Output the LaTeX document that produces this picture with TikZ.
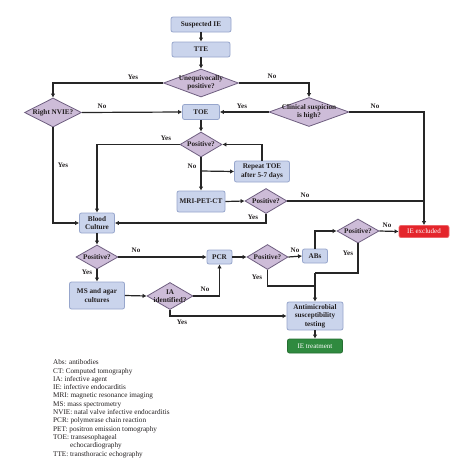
\documentclass[tikz,border=0pt]{standalone}
\usepackage{fontspec}
\setmainfont{Liberation Serif}
\usetikzlibrary{shapes.geometric,arrows.meta,calc}
\definecolor{boxfill}{HTML}{CAD4EC}
\definecolor{boxdraw}{HTML}{97A6CC}
\definecolor{diafill}{HTML}{CDBCD8}
\definecolor{diadraw}{HTML}{6F5F80}
\definecolor{linecol}{HTML}{262626}
\definecolor{txtcol}{HTML}{231F20}
\definecolor{redfill}{HTML}{E4252B}
\definecolor{greenfill}{HTML}{2F8A3F}
\tikzset{
  x=1pt, y=-1pt,
  bx/.style={rectangle, rounded corners=2pt, fill=boxfill, draw=boxdraw, line width=0.8pt,
    inner sep=0pt, align=center, text=txtcol, font=\fontsize{7.2}{8.6}\selectfont\bfseries},
  dia/.style={diamond, fill=diafill, draw=diadraw, line width=0.8pt, inner sep=0pt},
  dtext/.style={align=center, inner sep=0pt, text=txtcol, font=\fontsize{7.2}{7.6}\selectfont\bfseries},
  lab/.style={inner sep=0pt, text=txtcol, font=\fontsize{7}{8}\selectfont\bfseries},
  conn/.style={draw=linecol, line width=1.2pt},
  arr/.style={conn, -{Latex[length=4pt,width=4.5pt]}},
}
\begin{document}
\begin{tikzpicture}
\useasboundingbox (0,0) rectangle (474,474);
\fill[white] (0,0) rectangle (474,474);

% boxes
\node[bx, minimum width=60, minimum height=15] (s1) at (201,24.5) {Suspected IE};
\node[bx, minimum width=58, minimum height=15] (tte) at (201,49.5) {TTE};
\node[bx, minimum width=37, minimum height=15] (toe) at (201,112) {TOE};
\node[bx, minimum width=55, minimum height=21] (rep) at (262,171.5) {Repeat TOE\\after 5-7 days};
\node[bx, minimum width=48, minimum height=21] (mri) at (201,201.5) {MRI-PET-CT};
\node[bx, minimum width=35, minimum height=20] (bc) at (97,223) {Blood\\Culture};
\node[bx, minimum width=25, minimum height=14] (pcr) at (219.5,257) {PCR};
\node[bx, minimum width=55, minimum height=27] (ms) at (97,295.5) {MS and agar\\cultures};
\node[bx, minimum width=25, minimum height=14] (abs) at (315,256) {ABs};
\node[bx, minimum width=56, minimum height=28] (am) at (315,316) {Antimicrobial\\susceptibility\\testing};
\node[bx, fill=redfill, draw=redfill!70!white, text=white, font=\fontsize{7}{8}\selectfont,
  minimum width=50, minimum height=12] (iex) at (424,231.5) {IE excluded};
\node[bx, fill=greenfill, draw=greenfill!80!black, text=white, font=\fontsize{7}{8}\selectfont,
  minimum width=55, minimum height=14] (iet) at (315,346) {IE treatment};

% diamonds
\node[dia, minimum width=75, minimum height=28] (d1) at (201,83) {};
\node[dtext] (d1t) at (d1) {Unequivocally\\positive?};
\node[dia, minimum width=57, minimum height=29] (nvie) at (53,112.5) {};
\node[dtext] (nviet) at (nvie) {Right NVIE?};
\node[dia, minimum width=80, minimum height=29] (clin) at (309,112) {};
\node[dtext] (clint) at (clin) {Clinical suspicion\\is high?};
\node[dia, minimum width=42, minimum height=25] (d2) at (201,144.5) {};
\node[dtext] (d2t) at (d2) {Positive?};
\node[dia, minimum width=42, minimum height=25] (d3) at (266,201) {};
\node[dtext] (d3t) at (d3) {Positive?};
\node[dia, minimum width=42, minimum height=24] (d4) at (97,257) {};
\node[dtext] (d4t) at (d4) {Positive?};
\node[dia, minimum width=46, minimum height=27] (ia) at (170,296) {};
\node[dtext] (iat) at (ia) {IA\\identified?};
\node[dia, minimum width=41, minimum height=25] (d5) at (267.5,257) {};
\node[dtext] (d5t) at (d5) {Positive?};
\node[dia, minimum width=42, minimum height=24] (d6) at (358,231) {};
\node[dtext] (d6t) at (d6) {Positive?};

% helper coordinates
\coordinate (br) at (201,171);
\coordinate (j3) at (424,201);
\coordinate (j1) at (315,273);
\coordinate (j2) at (315,286);

% connectors
\draw[arr] (s1) -- (tte);
\draw[arr] (tte) -- (d1);
\draw[arr] (d1.west) -| (nvie.north);
\draw[arr] (d1.east) -| (clin.north);
\draw[arr] (nvie.east) -- (toe.west);
\draw[arr] (clin.west) -- (toe.east);
\draw[arr] (clin.east) -| (iex.north);
\draw[arr] (toe) -- (d2);
\draw[arr] (d2.west) -| (bc.north);
\draw[arr] (d2.south) -- (mri.north);
\draw[arr] (br) -- (rep.west);
\draw[arr] (rep.north) |- (d2.east);
\draw[arr] (mri.east) -- (d3.west);
\draw[conn] (d3.east) -- (j3);
\draw[arr] (d3.south) |- (bc.east);
\draw[arr] (nvie.south) |- (bc.west);
\draw[arr] (bc) -- (d4);
\draw[arr] (d4.east) -- (pcr.west);
\draw[arr] (d4.south) -- (ms.north);
\draw[arr] (ms.east) -- (ia.west);
\draw[arr] (ia.east) -| (pcr.south);
\draw[arr] (ia.south) |- (am.west);
\draw[arr] (pcr.east) -- (d5.west);
\draw[arr] (d5.east) -- (abs.west);
\draw[arr] (abs.north) |- (d6.west);
\draw[arr] (d6.east) -- (iex.west);
\draw[conn] (d6.south) |- (j1);
\draw[conn] (d5.south) |- (j2);
\draw[arr] (j1) -- (am.north);
\draw[arr] (am) -- (iet);

% labels
\node[lab] (l1) at (133,77) {Yes};
\node[lab] (l2) at (272,76) {No};
\node[lab] (l3) at (102,106) {No};
\node[lab] (l4) at (242,106) {Yes};
\node[lab] (l5) at (375,106) {No};
\node[lab] (l6) at (166,138) {Yes};
\node[lab] (l7) at (192,166) {No};
\node[lab] (l8) at (63,165) {Yes};
\node[lab] (l9) at (305,195) {No};
\node[lab] (l10) at (253,217) {Yes};
\node[lab] (l11) at (136,250) {No};
\node[lab] (l12) at (87,272) {Yes};
\node[lab] (l13) at (205,289) {No};
\node[lab] (l14) at (182,322) {Yes};
\node[lab] (l15) at (295,250) {No};
\node[lab] (l16) at (257,277) {Yes};
\node[lab] (l17) at (348,253) {Yes};
\node[lab] (l18) at (387,225) {No};

% legend
\node[anchor=north west, align=left, inner sep=0pt, text=txtcol,
  font=\fontsize{7.2}{8.3}\selectfont] (legend) at (53,359.5) {%
Abs: antibodies\\
CT: Computed tomography\\
IA: infective agent\\
IE: infective endocarditis\\
MRI: magnetic resonance imaging\\
MS: mass spectrometry\\
NVIE: natal valve infective endocarditis\\
PCR: polymerase chain reaction\\
PET: positron emission tomography\\
TOE: transesophageal\\
\hspace*{17pt}echocardiography\\
TTE: transthoracic echography};
\end{tikzpicture}
\end{document}
